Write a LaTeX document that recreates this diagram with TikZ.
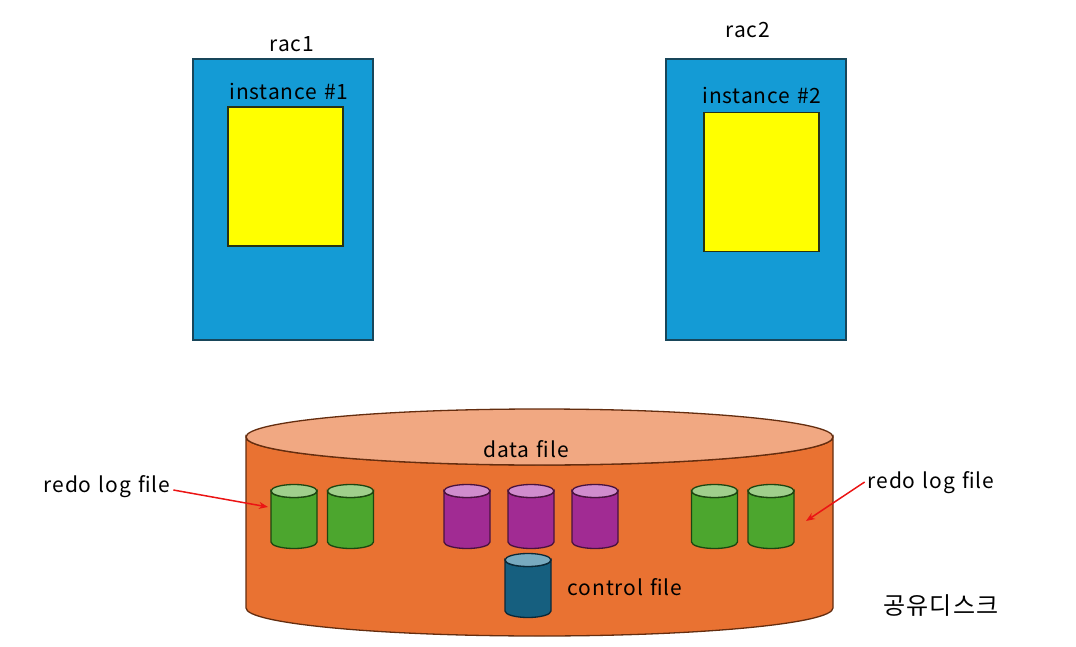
\documentclass[tikz,border=0pt]{standalone}
\usepackage{fontspec}
\setmainfont[WordSpace=1.3,LetterSpace=4]{Noto Sans CJK KR}
\usetikzlibrary{arrows.meta}
\definecolor{boxblue}{RGB}{20,155,213}
\definecolor{boxedge}{RGB}{24,70,90}
\definecolor{yel}{RGB}{255,255,0}
\definecolor{yeledge}{RGB}{40,50,20}
\definecolor{diskbody}{RGB}{233,114,50}
\definecolor{disktop}{RGB}{241,168,130}
\definecolor{diskedge}{RGB}{100,45,15}
\definecolor{grbody}{RGB}{76,166,46}
\definecolor{grtop}{RGB}{160,207,140}
\definecolor{gredge}{RGB}{28,70,16}
\definecolor{pubody}{RGB}{161,43,147}
\definecolor{putop}{RGB}{208,140,205}
\definecolor{puedge}{RGB}{72,18,62}
\definecolor{ctbody}{RGB}{22,95,127}
\definecolor{cttop}{RGB}{120,170,192}
\definecolor{ctedge}{RGB}{10,40,55}
\definecolor{arrowred}{RGB}{235,20,20}
\newcommand\drumshape[8]{%
  \filldraw[fill=#6,draw=#8,line width=1.3pt] (#1-#2,#3) -- (#1-#2,#4)
    arc[start angle=180,end angle=360,x radius=#2pt,y radius=#5pt] -- (#1+#2,#3)
    arc[start angle=0,end angle=-180,x radius=#2pt,y radius=#5pt] -- cycle;
  \filldraw[fill=#7,draw=#8,line width=1.3pt] (#1,#3) ellipse[x radius=#2pt,y radius=#5pt];
}
\tikzset{
  lbl/.style={font=\fontsize{21}{25}\selectfont, inner sep=0pt, text=black},
  korlbl/.style={font=\fontsize{24}{28}\selectfont, inner sep=0pt, text=black},
  hostbox/.style={draw=boxedge, fill=boxblue, line width=1.3pt, inner sep=0pt},
  instbox/.style={draw=yeledge, fill=yel, line width=1.3pt, inner sep=0pt},
  redarrow/.style={draw=arrowred, line width=1.5pt, -{Stealth[length=9pt,width=7pt]}}
}
\begin{document}
\begin{tikzpicture}[x=1pt,y=-1pt]
\useasboundingbox (0,0) rectangle (1076,647);
% hosts
\node[hostbox, minimum width=180, minimum height=281] (rac1) at (283,199.5) {};
\node[instbox, minimum width=115, minimum height=139] (inst1) at (285.5,176.5) {};
\node[lbl] (rac1lbl) at (292,44) {rac1};
\node[lbl] (inst1lbl) at (289,92) {instance \#1};
\node[hostbox, minimum width=180, minimum height=281] (rac2) at (756,199.5) {};
\node[instbox, minimum width=115, minimum height=139] (inst2) at (761.5,182) {};
\node[lbl] (rac2lbl) at (748,30) {rac2};
\node[lbl] (inst2lbl) at (762,96) {instance \#2};
% shared disk
\drumshape{539.5}{293.5}{437}{608}{28}{diskbody}{disktop}{diskedge}
\node[lbl] (datalbl) at (526,449) {data file};
% redo log files
\drumshape{294}{23}{491}{542}{6.5}{grbody}{grtop}{gredge}
\drumshape{350.5}{23}{491}{542}{6.5}{grbody}{grtop}{gredge}
\drumshape{714.5}{23}{491}{542}{6.5}{grbody}{grtop}{gredge}
\drumshape{771}{23}{491}{542}{6.5}{grbody}{grtop}{gredge}
% data files
\drumshape{467}{23}{491}{542}{6.5}{pubody}{putop}{puedge}
\drumshape{531}{23}{491}{542}{6.5}{pubody}{putop}{puedge}
\drumshape{595}{23}{491}{542}{6.5}{pubody}{putop}{puedge}
% control file
\drumshape{528}{23}{560}{611}{6.5}{ctbody}{cttop}{ctedge}
\node[lbl] (ctllbl) at (625,587) {control file};
% labels
\node[lbl] (redoL) at (107,487) {redo log file};
\node[lbl] (redoR) at (931,483) {redo log file};
\node[korlbl] (disklbl) at (941,606) {공유디스크};
\coordinate (redoLtip) at (268,507);
\coordinate (redoRtip) at (806,521);
\draw[redarrow] ([xshift=3pt,yshift=-3pt]redoL.east) -- (redoLtip);
\draw[redarrow] ([xshift=-3pt,yshift=1pt]redoR.west) -- (redoRtip);
\end{tikzpicture}
\end{document}
